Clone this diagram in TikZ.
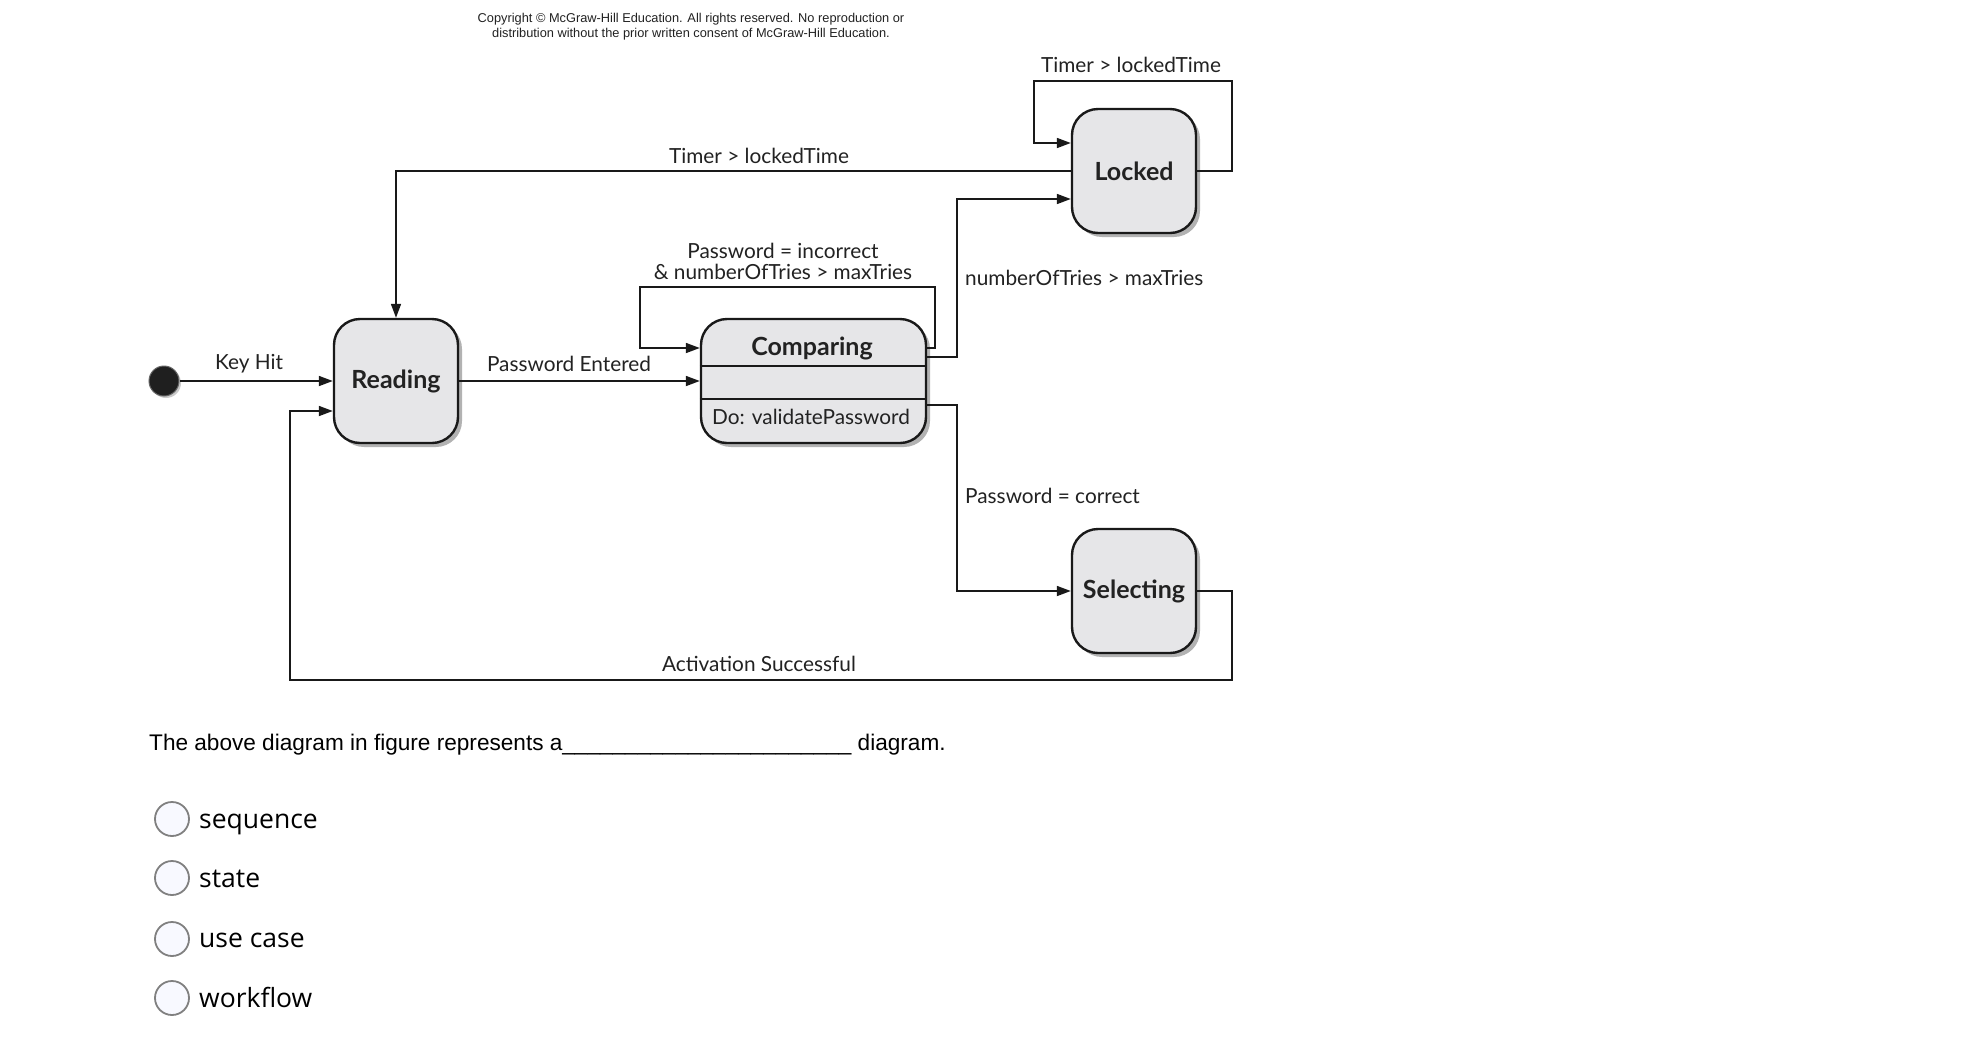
\documentclass[tikz,border=0pt]{standalone}
\usepackage{fontspec}
\setmainfont{Lato}
\newfontfamily\qfont{Liberation Sans}
\newfontfamily\ofont{Open Sans}
\usetikzlibrary{arrows.meta,shadows,calc}
\definecolor{boxfill}{HTML}{E6E6E8}
\definecolor{txt}{HTML}{222222}
\definecolor{radiofill}{HTML}{F8F9FF}
\begin{document}
\begin{tikzpicture}[x=1pt,y=-1pt,
  state/.style={draw=black!90, line width=2.4pt, fill=boxfill, rounded corners=26pt,
    minimum width=124pt, minimum height=124pt, inner sep=0pt,
    font=\fontsize{25}{29}\selectfont\bfseries, text=txt,
    drop shadow={shadow xshift=4pt, shadow yshift=-4pt, fill=black!50, opacity=.6}},
  conn/.style={line width=1.7pt, draw=black!90},
  arr/.style={conn, -{Triangle[length=14pt,width=10pt]}},
  lbl/.style={font=\fontsize{20.8}{24}\selectfont, text=txt, inner sep=0pt},
  radio/.style={circle, draw=gray, line width=1.8pt, fill=radiofill, minimum size=34pt, inner sep=0pt},
  opt/.style={font=\ofont\fontsize{26.5}{32}\selectfont, anchor=base west, inner sep=0pt, text=black}]
\useasboundingbox (0,0) rectangle (1984,1050);
\fill[white] (0,0) rectangle (1984,1050);

% copyright
\node[font=\qfont\fontsize{12.8}{15}\selectfont, align=center, text=txt, inner sep=0pt] (copy) at (691,26.5)
  {Copyright © McGraw-Hill Education. All rights reserved. No reproduction or\\distribution without the prior written consent of McGraw-Hill Education.};

% states
\node[circle, fill=black!88, draw=black!60, line width=1pt, minimum size=30pt, inner sep=0pt,
  drop shadow={shadow xshift=2pt, shadow yshift=-2pt, fill=black!40, opacity=.5}] (init) at (164,381) {};
\node[state] (reading) at (396,381) {Reading};
\node[state, minimum width=225pt] (comp) at (813.5,381) {};
\draw[line width=2pt, black!90] (comp.west |- 0,366) -- (comp.east |- 0,366);
\draw[line width=2pt, black!90] (comp.west |- 0,399) -- (comp.east |- 0,399);
\node[font=\fontsize{25}{29}\selectfont\bfseries, text=txt, inner sep=0pt] (ctitle) at (812,348) {Comparing};
\node[lbl] (cdo) at (811,417) {Do: validatePassword};
\node[state] (locked) at (1134,171) {Locked};
\node[state] (selecting) at (1134,591) {Selecting};

% connector corner coordinates
\coordinate (cl1) at (935,348);
\coordinate (cl2) at (935,287);
\coordinate (cl3) at (640,287);
\coordinate (cl4) at (640,348);
\coordinate (nt1) at (957,357);
\coordinate (nt2) at (957,199);
\coordinate (tm1) at (396,171);
\coordinate (ll1) at (1232,171);
\coordinate (ll2) at (1232,81);
\coordinate (ll3) at (1034,81);
\coordinate (ll4) at (1034,143);
\coordinate (pc1) at (957,405);
\coordinate (pc2) at (957,591);
\coordinate (as1) at (1232,591);
\coordinate (as2) at (1232,680);
\coordinate (as3) at (290,680);
\coordinate (as4) at (290,411);

% connectors
\draw[arr] (init) -- (reading);
\draw[arr] (reading) -- (comp);
\draw[arr] (comp.east |- cl1) -- (cl1) -- (cl2) -- (cl3) -- (cl4) -- (comp.west |- cl4);
\draw[arr] (comp.east |- nt1) -- (nt1) -- (nt2) -- (locked.west |- nt2);
\draw[arr] (locked.west) -- (tm1) -- (reading.north);
\draw[arr] (locked.east) -- (ll1) -- (ll2) -- (ll3) -- (ll4) -- (locked.west |- ll4);
\draw[arr] (comp.east |- pc1) -- (pc1) -- (pc2) -- (selecting.west);
\draw[arr] (selecting.east) -- (as1) -- (as2) -- (as3) -- (as4) -- (reading.west |- as4);

% labels
\node[lbl] (lkey) at (249,364) {Key Hit};
\node[lbl] (lpe) at (569,364) {Password Entered};
\node[lbl] (ltm) at (759,156) {Timer > lockedTime};
\node[lbl] (ltm2) at (1131,65) {Timer > lockedTime};
\node[lbl, align=center, font=\fontsize{20.8}{21}\selectfont] (linc) at (783,261) {Password = incorrect\\\& numberOfTries > maxTries};
\node[lbl, anchor=west] (lnt) at (965,278) {numberOfTries > maxTries};
\node[lbl, anchor=west] (lpc) at (965,496) {Password = correct};
\node[lbl] (las) at (759,664) {Activation Successful};

% question
\node[font=\qfont\fontsize{22.6}{27}\selectfont, anchor=west, inner sep=0pt, text=black] (q) at (149,744.5)
  {The above diagram in figure represents a\_\_\_\_\_\_\_\_\_\_\_\_\_\_\_\_\_\_\_\_\_\_\_ diagram.};

\node[radio] (r1) at (172,819) {};
\node[radio] (r2) at (172,878) {};
\node[radio] (r3) at (172,939) {};
\node[radio] (r4) at (172,998) {};
\node[opt] (o1) at (199,828) {sequence};
\node[opt] (o2) at (199,887) {state};
\node[opt] (o3) at (199,947) {use case};
\node[opt] (o4) at (199,1007) {workflow};
\end{tikzpicture}
\end{document}
